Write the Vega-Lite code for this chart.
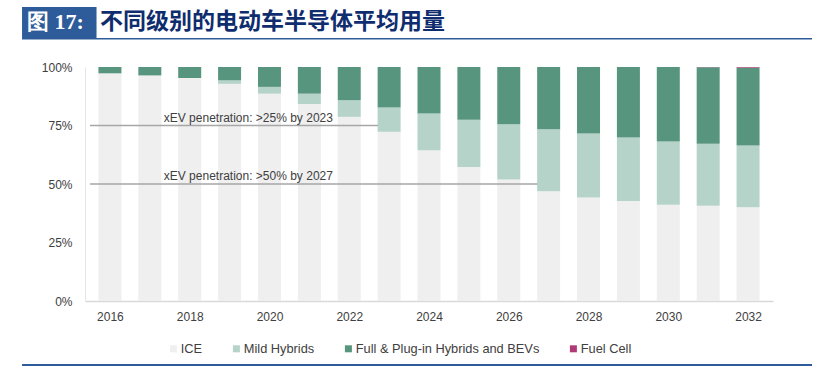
{
  "$schema": "https://vega.github.io/schema/vega-lite/v6.json",
  "padding": {"left": 22, "top": 7, "right": 10, "bottom": 0},
  "background": "white",
  "spacing": 12,
  "bounds": "full",
  "config": {
    "view": {"stroke": null},
    "font": "Liberation Sans",
    "axis": {"labelFont": "Liberation Sans", "labelFontSize": 12, "labelColor": "#404040", "title": null},
    "legend": {"labelFont": "Liberation Sans", "labelFontSize": 12.8, "labelColor": "#404040", "labelLimit": 0}
  },
  "vconcat": [
    {
      "width": 727,
      "height": 42,
      "layer": [
        {
          "data": {"values": [{"x0": 0, "x1": 0.0943, "y0": 0.262, "y1": 1}]},
          "mark": {"type": "rect", "color": "#2E5C9A"},
          "encoding": {
            "x": {"field": "x0", "type": "quantitative", "scale": {"domain": [0.0797, 1], "nice": false, "zero": false}, "axis": null},
            "x2": {"field": "x1"},
            "y": {"field": "y0", "type": "quantitative", "scale": {"domain": [0, 1], "nice": false}, "axis": null},
            "y2": {"field": "y1"}
          }
        },
        {
          "data": {"values": [{"x0": 0, "x1": 1, "y0": 0.226, "y1": 0.262}]},
          "mark": {"type": "rect", "color": "#2E5C9A"},
          "encoding": {
            "x": {"field": "x0", "type": "quantitative", "axis": null},
            "x2": {"field": "x1"},
            "y": {"field": "y0", "type": "quantitative", "axis": null},
            "y2": {"field": "y1"}
          }
        },
        {
          "data": {"values": [{"tx": 0.0063, "ty": 0.64, "t": "图  17:"}]},
          "mark": {"type": "text", "align": "left", "baseline": "middle", "font": "Liberation Serif", "fontWeight": "bold", "fontSize": 22, "color": "white"},
          "encoding": {
            "x": {"field": "tx", "type": "quantitative", "axis": null},
            "y": {"field": "ty", "type": "quantitative", "axis": null},
            "text": {"field": "t"}
          }
        },
        {
          "data": {"values": [{"tx": 0.0987, "ty": 0.64, "t": "不同级别的电动车半导体平均用量"}]},
          "mark": {"type": "text", "align": "left", "baseline": "middle", "font": "Noto Sans CJK SC", "fontWeight": "bold", "fontSize": 23, "color": "#0F2D6E"},
          "encoding": {
            "x": {"field": "tx", "type": "quantitative", "axis": null},
            "y": {"field": "ty", "type": "quantitative", "axis": null},
            "text": {"field": "t"}
          }
        }
      ]
    },
    {
      "width": 688,
      "height": 234,
      "layer": [
        {
          "data": {"values": [
            {"year": 2016, "type": "ICE", "k": 1, "share": 97.3}, {"year": 2016, "type": "Mild Hybrids", "k": 2, "share": 0}, {"year": 2016, "type": "Full & Plug-in Hybrids and BEVs", "k": 3, "share": 2.7}, {"year": 2016, "type": "Fuel Cell", "k": 4, "share": 0},
            {"year": 2017, "type": "ICE", "k": 1, "share": 96.4}, {"year": 2017, "type": "Mild Hybrids", "k": 2, "share": 0}, {"year": 2017, "type": "Full & Plug-in Hybrids and BEVs", "k": 3, "share": 3.6}, {"year": 2017, "type": "Fuel Cell", "k": 4, "share": 0},
            {"year": 2018, "type": "ICE", "k": 1, "share": 95.3}, {"year": 2018, "type": "Mild Hybrids", "k": 2, "share": 0}, {"year": 2018, "type": "Full & Plug-in Hybrids and BEVs", "k": 3, "share": 4.7}, {"year": 2018, "type": "Fuel Cell", "k": 4, "share": 0},
            {"year": 2019, "type": "ICE", "k": 1, "share": 92.8}, {"year": 2019, "type": "Mild Hybrids", "k": 2, "share": 1.5}, {"year": 2019, "type": "Full & Plug-in Hybrids and BEVs", "k": 3, "share": 5.7}, {"year": 2019, "type": "Fuel Cell", "k": 4, "share": 0},
            {"year": 2020, "type": "ICE", "k": 1, "share": 88.6}, {"year": 2020, "type": "Mild Hybrids", "k": 2, "share": 2.9}, {"year": 2020, "type": "Full & Plug-in Hybrids and BEVs", "k": 3, "share": 8.5}, {"year": 2020, "type": "Fuel Cell", "k": 4, "share": 0},
            {"year": 2021, "type": "ICE", "k": 1, "share": 84.2}, {"year": 2021, "type": "Mild Hybrids", "k": 2, "share": 4.4}, {"year": 2021, "type": "Full & Plug-in Hybrids and BEVs", "k": 3, "share": 11.4}, {"year": 2021, "type": "Fuel Cell", "k": 4, "share": 0},
            {"year": 2022, "type": "ICE", "k": 1, "share": 78.7}, {"year": 2022, "type": "Mild Hybrids", "k": 2, "share": 7.1}, {"year": 2022, "type": "Full & Plug-in Hybrids and BEVs", "k": 3, "share": 14.2}, {"year": 2022, "type": "Fuel Cell", "k": 4, "share": 0},
            {"year": 2023, "type": "ICE", "k": 1, "share": 72.3}, {"year": 2023, "type": "Mild Hybrids", "k": 2, "share": 10.4}, {"year": 2023, "type": "Full & Plug-in Hybrids and BEVs", "k": 3, "share": 17.3}, {"year": 2023, "type": "Fuel Cell", "k": 4, "share": 0},
            {"year": 2024, "type": "ICE", "k": 1, "share": 64.4}, {"year": 2024, "type": "Mild Hybrids", "k": 2, "share": 15.7}, {"year": 2024, "type": "Full & Plug-in Hybrids and BEVs", "k": 3, "share": 19.9}, {"year": 2024, "type": "Fuel Cell", "k": 4, "share": 0},
            {"year": 2025, "type": "ICE", "k": 1, "share": 57.3}, {"year": 2025, "type": "Mild Hybrids", "k": 2, "share": 20.2}, {"year": 2025, "type": "Full & Plug-in Hybrids and BEVs", "k": 3, "share": 22.5}, {"year": 2025, "type": "Fuel Cell", "k": 4, "share": 0},
            {"year": 2026, "type": "ICE", "k": 1, "share": 51.9}, {"year": 2026, "type": "Mild Hybrids", "k": 2, "share": 23.6}, {"year": 2026, "type": "Full & Plug-in Hybrids and BEVs", "k": 3, "share": 24.5}, {"year": 2026, "type": "Fuel Cell", "k": 4, "share": 0},
            {"year": 2027, "type": "ICE", "k": 1, "share": 46.9}, {"year": 2027, "type": "Mild Hybrids", "k": 2, "share": 26.5}, {"year": 2027, "type": "Full & Plug-in Hybrids and BEVs", "k": 3, "share": 26.6}, {"year": 2027, "type": "Fuel Cell", "k": 4, "share": 0},
            {"year": 2028, "type": "ICE", "k": 1, "share": 44.2}, {"year": 2028, "type": "Mild Hybrids", "k": 2, "share": 27.4}, {"year": 2028, "type": "Full & Plug-in Hybrids and BEVs", "k": 3, "share": 28.4}, {"year": 2028, "type": "Fuel Cell", "k": 4, "share": 0},
            {"year": 2029, "type": "ICE", "k": 1, "share": 42.7}, {"year": 2029, "type": "Mild Hybrids", "k": 2, "share": 27.2}, {"year": 2029, "type": "Full & Plug-in Hybrids and BEVs", "k": 3, "share": 30.1}, {"year": 2029, "type": "Fuel Cell", "k": 4, "share": 0},
            {"year": 2030, "type": "ICE", "k": 1, "share": 41.1}, {"year": 2030, "type": "Mild Hybrids", "k": 2, "share": 27.1}, {"year": 2030, "type": "Full & Plug-in Hybrids and BEVs", "k": 3, "share": 31.8}, {"year": 2030, "type": "Fuel Cell", "k": 4, "share": 0},
            {"year": 2031, "type": "ICE", "k": 1, "share": 40.7}, {"year": 2031, "type": "Mild Hybrids", "k": 2, "share": 26.5}, {"year": 2031, "type": "Full & Plug-in Hybrids and BEVs", "k": 3, "share": 32.7}, {"year": 2031, "type": "Fuel Cell", "k": 4, "share": 0.1},
            {"year": 2032, "type": "ICE", "k": 1, "share": 40.1}, {"year": 2032, "type": "Mild Hybrids", "k": 2, "share": 26.4}, {"year": 2032, "type": "Full & Plug-in Hybrids and BEVs", "k": 3, "share": 33.2}, {"year": 2032, "type": "Fuel Cell", "k": 4, "share": 0.3}
          ]},
          "mark": {"type": "bar", "size": 23},
          "encoding": {
            "x": {
              "field": "year", "type": "quantitative", "title": null,
              "scale": {"domain": [2015.5, 2032.5], "nice": false, "zero": false},
              "axis": {"values": [2016, 2018, 2020, 2022, 2024, 2026, 2028, 2030, 2032], "format": "d", "ticks": false, "grid": false, "domainColor": "#D9D9D9", "domainWidth": 1.5, "labelPadding": 10, "title": null}
            },
            "y": {
              "field": "share", "type": "quantitative", "stack": "zero", "title": null,
              "scale": {"domain": [0, 100], "nice": false},
              "axis": {"values": [0, 25, 50, 75, 100], "labelExpr": "datum.value + '%'", "ticks": false, "grid": false, "domainColor": "#E6E6E6", "labelPadding": 13, "minExtent": 63, "title": null}
            },
            "color": {
              "field": "type", "type": "nominal",
              "scale": {"domain": ["ICE", "Mild Hybrids", "Full & Plug-in Hybrids and BEVs", "Fuel Cell"], "range": ["#EFEFEF", "#B6D3C9", "#57957F", "#B03A78"]},
              "legend": {"title": null, "orient": "none", "legendX": 82, "legendY": 335, "direction": "horizontal", "symbolType": "square", "symbolSize": 49, "symbolStrokeWidth": 0, "columnPadding": 27, "labelOffset": 1, "labelLimit": 0}
            },
            "order": {"field": "k", "type": "quantitative", "sort": "ascending"}
          }
        },
        {
          "data": {"values": [
            {"pen": 75, "from": 2015.5, "to": 2022.72, "tx": 2017.35, "label": "xEV penetration: >25% by 2023"},
            {"pen": 50, "from": 2015.5, "to": 2026.72, "tx": 2017.35, "label": "xEV penetration: >50% by 2027"}
          ]},
          "layer": [
            {
              "mark": {"type": "rule", "color": "#A6A6A6", "strokeWidth": 1.5},
              "encoding": {
                "x": {"field": "from", "type": "quantitative", "title": null},
                "x2": {"field": "to"},
                "y": {"field": "pen", "type": "quantitative", "title": null}
              }
            },
            {
              "mark": {"type": "text", "align": "left", "baseline": "bottom", "dy": -1, "fontSize": 12, "color": "#404040", "font": "Liberation Sans"},
              "encoding": {
                "x": {"field": "tx", "type": "quantitative", "title": null},
                "y": {"field": "pen", "type": "quantitative", "title": null},
                "text": {"field": "label"}
              }
            }
          ]
        }
      ]
    },
    {
      "width": 727,
      "height": 32,
      "data": {"values": [{"x0": 0, "x1": 1, "y0": 0, "y1": 0.0625}]},
      "mark": {"type": "rect", "color": "#2E5C9A"},
      "encoding": {
        "x": {"field": "x0", "type": "quantitative", "scale": {"domain": [0.0797, 1], "nice": false, "zero": false}, "axis": null},
        "x2": {"field": "x1"},
        "y": {"field": "y0", "type": "quantitative", "scale": {"domain": [0, 1], "nice": false}, "axis": null},
        "y2": {"field": "y1"}
      }
    }
  ]
}
